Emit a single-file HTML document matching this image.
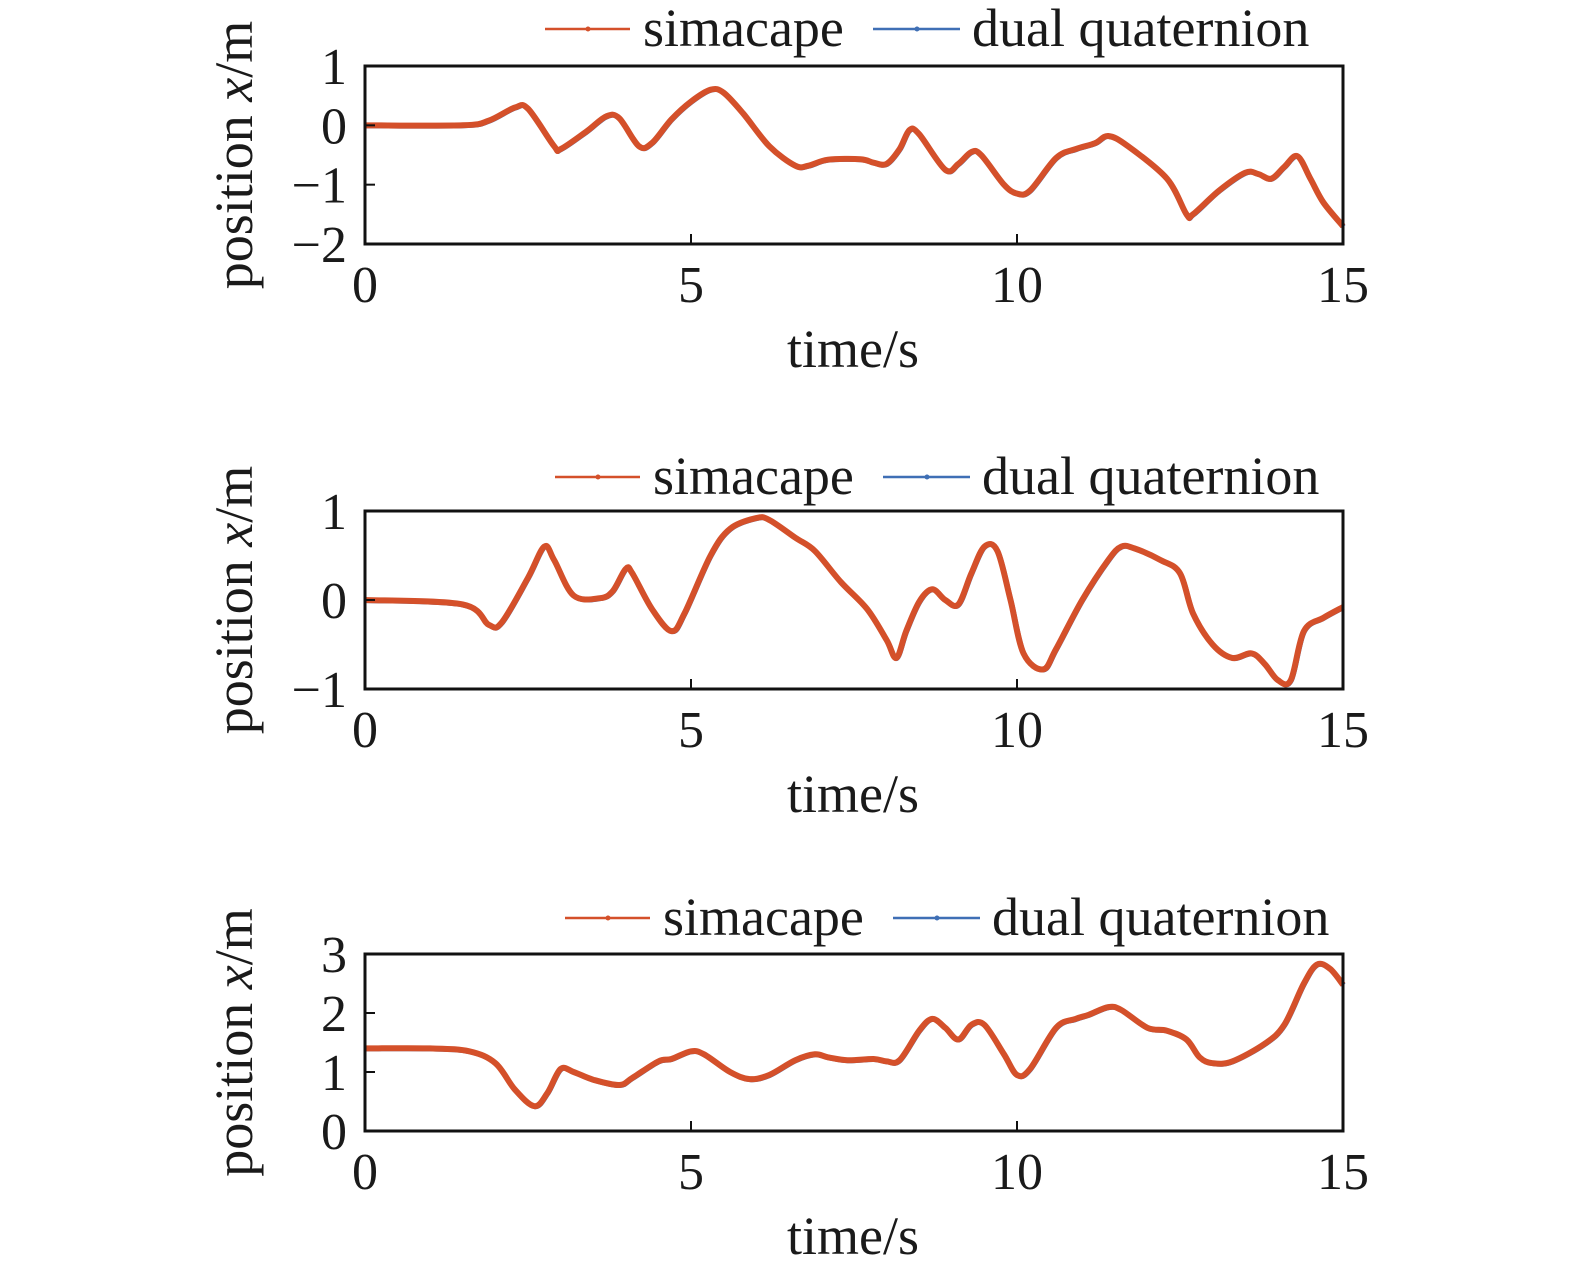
<!DOCTYPE html>
<html><head><meta charset="utf-8"><style>
html,body{margin:0;padding:0;background:#fff;}
svg{display:block;}
text{font-family:"Liberation Serif",serif;fill:#1a1a1a;}
</style></head><body>
<svg id="chart" width="1575" height="1266" viewBox="0 0 1575 1266"></svg>
<script>
const tickX = [0,5,10,15];
const p1T = [0,1.5,1.9,2.3,2.5,2.9,3.0,3.4,3.7,3.9,4.2,4.4,4.7,5.0,5.3,5.5,5.8,6.2,6.6,6.8,7.1,7.6,7.8,8.0,8.2,8.35,8.5,8.9,9.1,9.3,9.45,9.8,10.0,10.2,10.6,10.9,11.2,11.4,11.7,12.3,12.6,12.7,13.1,13.5,13.7,13.9,14.1,14.3,14.5,14.7,15.0];
const p1V = [0,0,0.08,0.3,0.28,-0.35,-0.4,-0.1,0.15,0.12,-0.35,-0.3,0.1,0.4,0.6,0.55,0.2,-0.35,-0.68,-0.68,-0.58,-0.57,-0.63,-0.65,-0.4,-0.08,-0.15,-0.75,-0.65,-0.45,-0.5,-1.0,-1.15,-1.1,-0.55,-0.4,-0.3,-0.18,-0.35,-0.9,-1.5,-1.5,-1.1,-0.8,-0.82,-0.9,-0.7,-0.52,-0.9,-1.3,-1.7];
const p1Ticks = [1,0,-1,-2];
const p2T = [0,1.5,1.9,2.1,2.5,2.75,2.9,3.2,3.6,3.8,4.0,4.1,4.4,4.7,4.9,5.3,5.6,6.0,6.2,6.6,6.9,7.3,7.7,8.0,8.15,8.3,8.5,8.7,8.9,9.1,9.3,9.5,9.7,9.9,10.1,10.4,10.6,11.0,11.4,11.6,11.8,12.2,12.5,12.7,13.0,13.3,13.6,13.8,14.0,14.2,14.4,14.7,15.0];
const p2V = [0,-0.05,-0.28,-0.25,0.25,0.6,0.45,0.05,0.02,0.1,0.35,0.3,-0.1,-0.35,-0.15,0.5,0.8,0.92,0.9,0.7,0.55,0.2,-0.1,-0.45,-0.65,-0.35,-0.02,0.12,0.0,-0.05,0.3,0.6,0.55,0.0,-0.6,-0.78,-0.55,0.0,0.45,0.6,0.58,0.45,0.3,-0.15,-0.5,-0.65,-0.6,-0.72,-0.9,-0.9,-0.35,-0.2,-0.08];
const p2Ticks = [1,0,-1];
const p3T = [0,1.0,1.6,2.0,2.3,2.6,2.8,3.0,3.2,3.5,3.9,4.1,4.5,4.7,5.0,5.2,5.6,5.9,6.2,6.6,6.9,7.1,7.4,7.8,8.0,8.2,8.5,8.7,8.9,9.1,9.3,9.5,9.8,10.0,10.2,10.6,10.9,11.1,11.4,11.6,12.0,12.3,12.6,12.8,13.0,13.3,13.8,14.1,14.4,14.6,14.8,15.0];
const p3V = [1.4,1.4,1.35,1.15,0.7,0.42,0.65,1.05,1.0,0.87,0.78,0.9,1.18,1.22,1.35,1.3,1.0,0.88,0.95,1.2,1.3,1.25,1.2,1.22,1.18,1.2,1.7,1.9,1.75,1.55,1.8,1.8,1.3,0.95,1.05,1.75,1.9,1.97,2.1,2.05,1.75,1.7,1.55,1.25,1.15,1.18,1.48,1.8,2.5,2.82,2.75,2.48];
const p3Ticks = [3,2,1,0];

const NS="http://www.w3.org/2000/svg";
const svg=document.getElementById('chart');
function mk(tag,attrs,parent){const e=document.createElementNS(NS,tag);for(const k in attrs)e.setAttribute(k,attrs[k]);(parent||svg).appendChild(e);return e;}

function smoothPath(pts){
  let d=`M${pts[0][0]},${pts[0][1]}`;
  for(let i=0;i<pts.length-1;i++){
    const p0=pts[Math.max(0,i-1)],p1=pts[i],p2=pts[i+1],p3=pts[Math.min(pts.length-1,i+2)];
    const c1x=p1[0]+(p2[0]-p0[0])/6,c1y=p1[1]+(p2[1]-p0[1])/6;
    const c2x=p2[0]-(p3[0]-p1[0])/6,c2y=p2[1]-(p3[1]-p1[1])/6;
    d+=` C${c1x.toFixed(1)},${c1y.toFixed(1)} ${c2x.toFixed(1)},${c2y.toFixed(1)} ${p2[0].toFixed(1)},${p2[1].toFixed(1)}`;
  }
  return d;
}

const panels=[
 {T:p1T,V:p1V,ticks:p1Ticks,top:66,bot:244,ymax:1,ymin:-2,legY:29,legX:545,idx:1},
 {T:p2T,V:p2V,ticks:p2Ticks,top:511,bot:689,ymax:1,ymin:-1,legY:477,legX:555,idx:2},
 {T:p3T,V:p3V,ticks:p3Ticks,top:954,bot:1131,ymax:3,ymin:0,legY:918,legX:565,idx:3}
];
const L=365,R=1343;
panels.forEach(p=>{
  const g=mk('g',{});
  
  
  const xs=t=>L+(t-0)/15*(R-L);
  const ys=v=>p.bot-(v-p.ymin)/(p.ymax-p.ymin)*(p.bot-p.top);
  const pts=p.T.map((t,i)=>[xs(t),ys(p.V[i])]);
  const d=smoothPath(pts);
  const bl=mk('path',{d:d,fill:'none',stroke:'#3f6fb5','stroke-width':5,transform:'translate(0.5,0.5)'},g);
  
  
  const rl=mk('path',{d:d,fill:'none',stroke:'#d4502a','stroke-width':6,'stroke-linejoin':'round'},g);
  
  
  const fr=mk('rect',{x:L,y:p.top,width:R-L,height:p.bot-p.top,fill:'none',stroke:'#111','stroke-width':3},g);
  
  
  tickX.forEach(t=>{
    const x=xs(t);
    mk('line',{x1:x,x2:x,y1:p.bot,y2:p.bot-10,stroke:'#111','stroke-width':2},g);
    const tx=mk('text',{x:x,y:p.bot+58,'font-size':52,'text-anchor':'middle'},g);
    tx.textContent=t;
    
    
  });
  p.ticks.forEach(v=>{
    const y=ys(v);
    mk('line',{x1:L,x2:L+10,y1:y,y2:y,stroke:'#111','stroke-width':2},g);
    const tx=mk('text',{x:347,y:y+18,'font-size':52,'text-anchor':'end'},g);
    tx.textContent=(v<0?'\u2212':'')+Math.abs(v);
    
    
  });
  const xl=mk('text',{x:853,y:p.bot+123,'font-size':54,'text-anchor':'middle'},g);
  xl.textContent='time/s';
  
  
  const cy=(p.top+p.bot)/2;
  const yl=mk('text',{x:0,y:0,'font-size':54,'text-anchor':'middle',transform:`translate(252,${cy}) rotate(-90)`},g);
  yl.innerHTML='position <tspan font-style="italic">x</tspan>/m';
  
  
  const lg=mk('g',{},g);
  
  
  const e1=mk('g',{},lg);
  
  
  mk('line',{x1:p.legX,x2:p.legX+85,y1:p.legY,y2:p.legY,stroke:'#d4502a','stroke-width':2.5},e1);
  mk('circle',{cx:p.legX+43,cy:p.legY,r:2.5,fill:'#d4502a'},e1);
  const t1=mk('text',{x:p.legX+98,y:p.legY+17,'font-size':54},e1);
  t1.textContent='simacape';
  const e2=mk('g',{},lg);
  
  
  mk('line',{x1:p.legX+328,x2:p.legX+415,y1:p.legY,y2:p.legY,stroke:'#3f6fb5','stroke-width':2.5},e2);
  mk('circle',{cx:p.legX+372,cy:p.legY,r:2.5,fill:'#3f6fb5'},e2);
  const t2=mk('text',{x:p.legX+427,y:p.legY+17,'font-size':54},e2);
  t2.textContent='dual quaternion';
});
</script>
</body></html>
